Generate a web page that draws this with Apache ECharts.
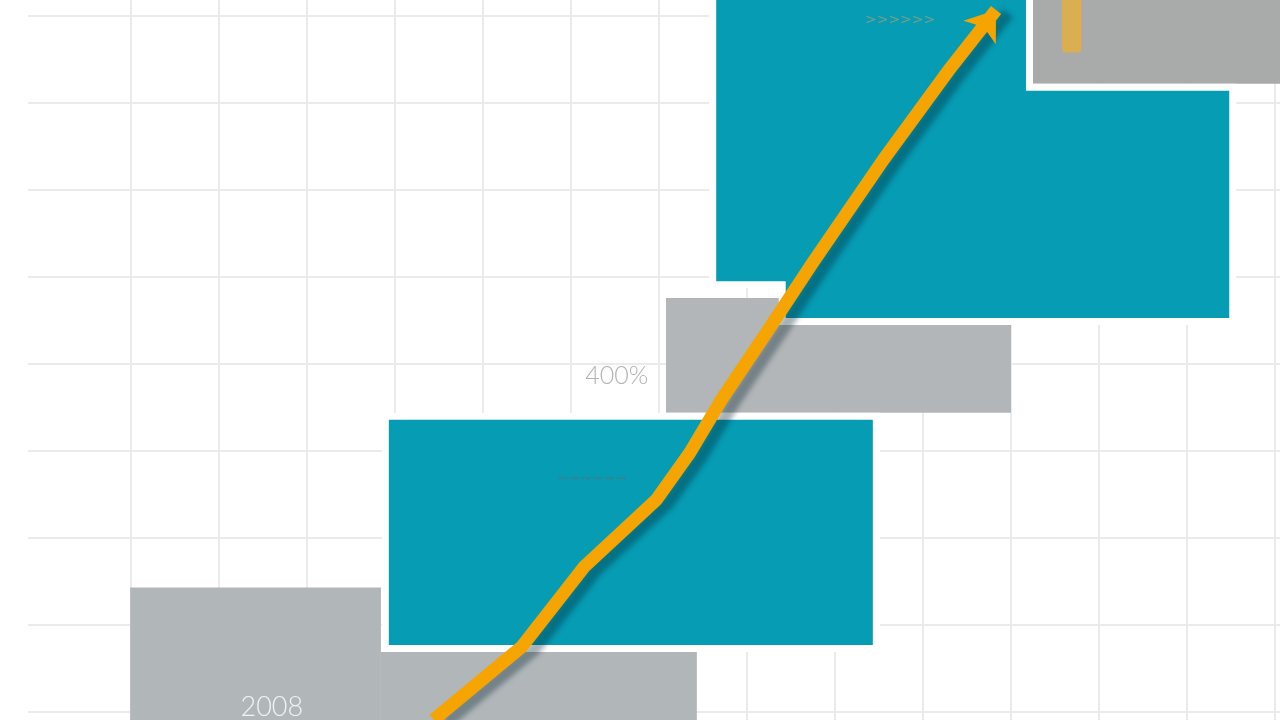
<!DOCTYPE html>
<html><head><meta charset="utf-8">
<script src="https://cdn.jsdelivr.net/npm/echarts@6/dist/echarts.min.js"></script>
<style>html,body{margin:0;padding:0;background:#fff}#c{width:1280px;height:720px}</style>
</head><body><div id="c"></div>
<script>
// ---- data (x in column units, y in row units) ----
const grayBars = [
  [-0.01, 2.84, -0.10, 1.43],
  [2.84, 6.43, -0.10, 0.69],
  [6.08, 10.00, 3.44, 4.76],
  [10.25, 13.30, 7.22, 8.30]
];
const tealBars = [
  [2.93, 8.43, 0.77, 3.36],
  [6.65, 10.17, 4.95, 8.30],
  [7.44, 12.48, 4.53, 7.14]
];
const markerBar = [[10.58, 10.80, 7.58, 8.30]];
const trendX = [3.44, 4.44, 5.15, 5.97, 6.35, 6.71, 7.24, 7.75, 8.55, 9.31, 9.83];
const trendY = [-0.09, 0.75, 1.67, 2.44, 2.98, 3.59, 4.39, 5.17, 6.35, 7.40, 8.07];
const labelTexts = ['2008', '400%', '>>>>>>', '~~~~~~'];
const labelX = [1.60, 5.52, 8.74, 5.24];
const labelY = [0.05, 3.86, 7.95, 2.67];

// ---- styles ----
const grayColors = ['#b1b7b9', '#b1b7b9', '#b2b6b8', '#a9abab'];
const tealColor = '#069cb4';
const orange = '#f6a500';
const gridLine = '#ebebeb';
const labelColors = ['#eef3f5', '#b3b3b3', 'rgba(214,160,100,0.55)', 'rgba(150,85,70,0.45)'];
const labelFonts = ['300 27px Lato, "DejaVu Sans", sans-serif', '300 25px Lato, "DejaVu Sans", sans-serif',
                    '14px "DejaVu Sans", sans-serif', '14px "DejaVu Sans", sans-serif'];

function rectRender(pad, colorFn) {
  return function (params, api) {
    const a = api.coord([api.value(0), api.value(3)]);
    const b = api.coord([api.value(1), api.value(2)]);
    return {
      type: 'rect',
      shape: { x: a[0] - pad, y: a[1] - pad, width: b[0] - a[0] + 2 * pad, height: b[1] - a[1] + 2 * pad },
      style: { fill: colorFn(params.dataIndex) }
    };
  };
}

const trendData = trendX.map((x, i) => [x, trendY[i]]);
trendData[trendData.length - 1] = {
  value: trendData[trendData.length - 1],
  symbol: 'arrow', symbolSize: [30, 28], symbolRotate: -36,
  itemStyle: { color: orange }
};

const chart = echarts.init(document.getElementById('c'), null, { renderer: 'canvas' });
chart.setOption({
  animation: false,
  backgroundColor: '#ffffff',
  grid: [
    { left: 131, width: 1144, top: 0, bottom: 0 },
    { left: 28, right: 0, top: 16, bottom: 8 }
  ],
  xAxis: [
    { type: 'value', gridIndex: 0, min: 0, max: 13, interval: 1,
      axisLine: { show: false }, axisTick: { show: false }, axisLabel: { show: false },
      splitLine: { show: true, lineStyle: { color: gridLine, width: 2 } } },
    { type: 'value', gridIndex: 1, min: 0, max: 1, show: false }
  ],
  yAxis: [
    { type: 'value', gridIndex: 0, min: -0.092, max: 8.184, offset: 103,
      axisLine: { show: true, lineStyle: { color: gridLine, width: 2 } },
      axisTick: { show: false }, axisLabel: { show: false }, splitLine: { show: false } },
    { type: 'value', gridIndex: 1, min: 0, max: 8, interval: 1,
      axisLine: { show: false }, axisTick: { show: false }, axisLabel: { show: false },
      splitLine: { show: true, lineStyle: { color: gridLine, width: 2 } } }
  ],
  series: [
    { type: 'custom', xAxisIndex: 0, yAxisIndex: 0, data: grayBars,
      renderItem: rectRender(0, i => grayColors[i]), z: 2 },
    { type: 'custom', xAxisIndex: 0, yAxisIndex: 0, data: tealBars,
      renderItem: rectRender(7, () => '#ffffff'), z: 3 },
    { type: 'custom', xAxisIndex: 0, yAxisIndex: 0, data: tealBars,
      renderItem: rectRender(0, () => tealColor), z: 4 },
    { type: 'custom', xAxisIndex: 0, yAxisIndex: 0, data: markerBar,
      renderItem: function (params, api) {
        const a = api.coord([api.value(0), api.value(3)]);
        const b = api.coord([api.value(1), api.value(2)]);
        return { type: 'rect', shape: { x: a[0], y: a[1], width: b[0] - a[0], height: b[1] - a[1], r: 4 },
                 style: { fill: '#dcae52' } };
      }, z: 5 },
    { type: 'line', xAxisIndex: 0, yAxisIndex: 0, data: trendData, symbol: 'none', clip: false,
      lineStyle: { color: orange, width: 13, join: 'round', cap: 'butt',
                   shadowColor: 'rgba(0,35,45,0.35)', shadowBlur: 5, shadowOffsetX: 12, shadowOffsetY: 3 },
      z: 6 },
    { type: 'custom', xAxisIndex: 0, yAxisIndex: 0,
      data: labelX.map((x, i) => [x, labelY[i]]),
      renderItem: function (params, api) {
        const c = api.coord([api.value(0), api.value(1)]);
        const i = params.dataIndex;
        return { type: 'text', x: c[0], y: c[1],
                 style: { text: labelTexts[i], fill: labelColors[i], font: labelFonts[i],
                          align: 'center', verticalAlign: 'middle' } };
      }, z: 7 }
  ]
});
</script></body></html>
